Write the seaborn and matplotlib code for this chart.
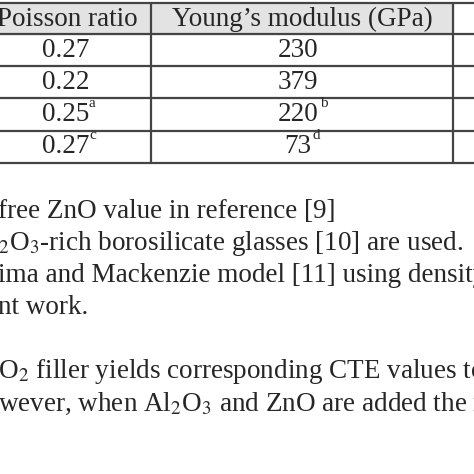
import matplotlib
matplotlib.use("Agg")
import matplotlib.pyplot as plt
import seaborn as sns

sns.set_theme(style="white")
plt.rcParams['font.family'] = ['Liberation Serif', 'DejaVu Serif']
plt.rcParams['mathtext.fontset'] = 'stix'

headers = ["Poisson ratio", "Young\u2019s modulus (GPa)"]
poisson = ["0.27", "0.22", "0.25", "0.27"]
poisson_sup = ["", "", "a", "c"]
young = ["230", "379", "220", "73"]
young_sup = ["", "", "b", "d"]
notes = ["free ZnO value in reference [9]",
         "$_2$O$_3$-rich borosilicate glasses [10] are used.",
         "ima and Mackenzie model [11] using density",
         "nt work.",
         "",
         "O$_2$ filler yields corresponding CTE values to",
         "wever, when Al$_2$O$_3$ and ZnO are added the r"]

fig = plt.figure(figsize=(4.74, 4.74), dpi=100)
ax = fig.add_axes([0, 0, 1, 1])
ax.set_xlim(0, 474); ax.set_ylim(474, 0); ax.axis('off')
fs = 19.5
ax.fill_between([0, 453], 3, 34, color='#e3e3e3', zorder=0)
for y in [3, 34, 66, 98, 131, 163]:
    ax.plot([0, 474], [y, y], color='#444444', lw=1.6)
for x in [151, 453]:
    ax.plot([x, x], [3, 163], color='#444444', lw=1.6)
ax.text(67, 19, headers[0], ha='center', va='center', fontsize=fs)
ax.text(302, 19, headers[1], ha='center', va='center', fontsize=fs)
for i in range(4):
    yc = 50 + 32.3 * i
    ax.text(66, yc, poisson[i], ha='center', va='center', fontsize=fs)
    if poisson_sup[i]:
        ax.text(89, yc - 11, poisson_sup[i], ha='left', va='center', fontsize=11)
    ax.text(298, yc, young[i], ha='center', va='center', fontsize=fs)
    if young_sup[i]:
        ax.text(320 if len(young[i]) == 3 else 313, yc - 11, young_sup[i], ha='left', va='center', fontsize=11)
for i, n in enumerate(notes):
    if n:
        ax.text(-2, 212 + 32 * i, n, ha='left', va='center', fontsize=fs)
fig.savefig("out.png", dpi=100)
